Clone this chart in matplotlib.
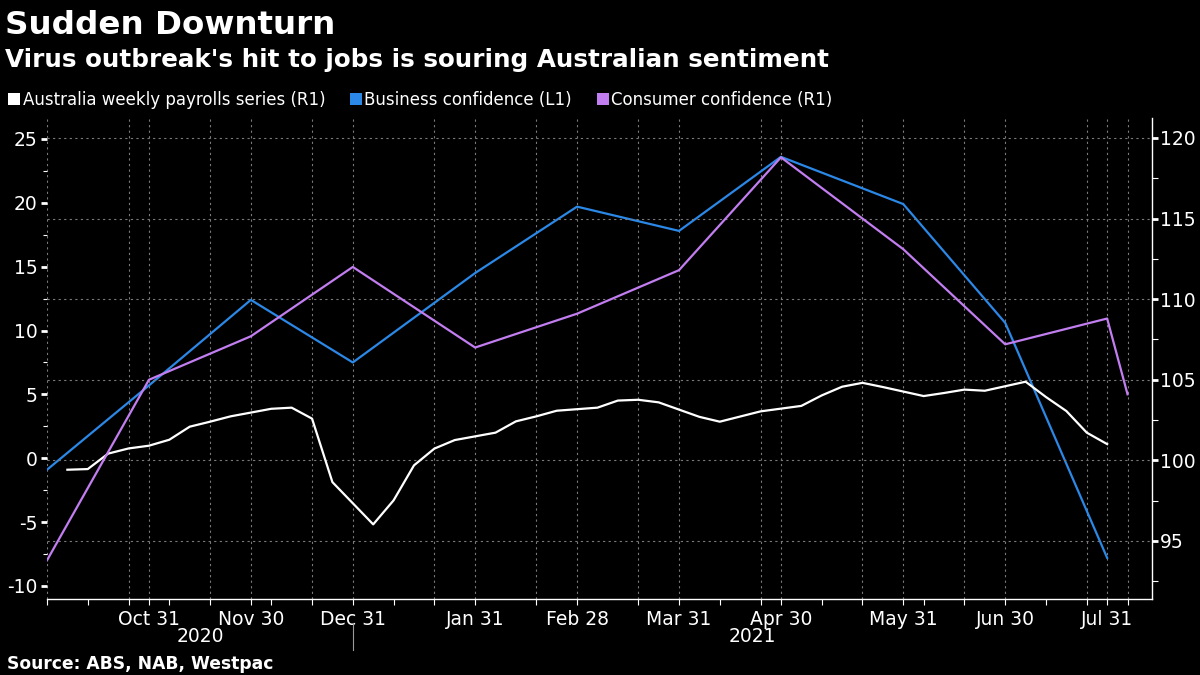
import matplotlib
matplotlib.use("Agg")
import matplotlib.pyplot as plt
import matplotlib.transforms as mtransforms
from matplotlib.lines import Line2D
import pandas as pd

# ---------------- data ----------------
month_end_dates = ["2020-09-30", "2020-10-31", "2020-11-30", "2020-12-31", "2021-01-31",
                   "2021-02-28", "2021-03-31", "2021-04-30", "2021-05-31", "2021-06-30",
                   "2021-07-31"]
business_conf = [-0.9, 5.7, 12.4, 7.5, 14.5, 19.7, 17.8, 23.6, 19.9, 10.6, -7.8]

consumer_dates = month_end_dates + ["2021-08-31"]
consumer_conf = [93.8, 105.0, 107.7, 112.0, 107.0, 109.1, 111.8, 118.8, 113.1, 107.2,
                 108.8, 104.1]

payroll_dates = [d.strftime("%Y-%m-%d") for d in
                 pd.date_range("2020-10-03", "2021-07-31", freq="W-SAT")]
payroll = [99.42, 99.46, 100.42, 100.74, 100.91, 101.28, 102.09, 102.40, 102.73,
           103.20, 103.27, 102.59, 98.65,
           96.03, 97.52, 99.69, 100.73, 101.26,
           101.72, 102.42, 102.73, 103.08,
           103.27, 103.71, 103.76, 103.60,
           102.70, 102.40, 102.72, 103.04,
           103.38, 104.03, 104.57, 104.81, 104.55,
           103.99, 104.18, 104.39, 104.32,
           104.88, 103.93, 103.06, 101.72, 101.01]

tick_label_dates = ["2020-10-31", "2020-11-30", "2020-12-31", "2021-01-31", "2021-02-28",
                    "2021-03-31", "2021-04-30", "2021-05-31", "2021-06-30", "2021-07-31"]
tick_labels = ["Oct 31", "Nov 30", "Dec 31", "Jan 31", "Feb 28", "Mar 31", "Apr 30",
               "May 31", "Jun 30", "Jul 31"]
minor_tick_dates = ["2020-09-30", "2020-10-10", "2020-10-24", "2020-11-07", "2020-11-21",
                    "2020-12-05", "2020-12-19", "2021-01-09", "2021-01-23", "2021-02-20",
                    "2021-03-20", "2021-04-10", "2021-04-24", "2021-05-08", "2021-05-22",
                    "2021-06-05", "2021-06-19", "2021-07-10", "2021-07-24", "2021-08-31"]
grid_dates = ["2020-09-30", "2020-10-24", "2020-11-21", "2020-12-19", "2021-01-23",
              "2021-02-20", "2021-03-20", "2021-04-24", "2021-05-22", "2021-06-19",
              "2021-07-24", "2021-08-31"] + tick_label_dates

# ordinal (observation-based) x axis over union of all dates
all_dates = sorted(set(month_end_dates + consumer_dates + payroll_dates))
pos = {d: i for i, d in enumerate(all_dates)}
def X(dates):
    return [pos[d] for d in dates]

# ---------------- style ----------------
BG = "black"
WHITE = "white"
BLUE = "#2b88e6"
PURPLE = "#c27ef0"
GRID = "#7a7a7a"
FONT = "DejaVu Sans"
plt.rcParams["font.family"] = [FONT]
plt.rcParams["axes.unicode_minus"] = False

fig = plt.figure(figsize=(12, 6.75), dpi=100, facecolor=BG)
ax = fig.add_axes([47 / 1200, 1 - 599 / 675, (1152 - 47) / 1200, (599 - 118) / 675])
ax.set_facecolor(BG)
ax2 = ax.twinx()

ax.set_xlim(0, 54.2)
ax.set_ylim(-11.02, 26.64)
ax2.set_ylim(91.40, 121.24)

# grid lines
for gx in X(grid_dates):
    ax.axvline(gx, color=GRID, lw=0.8, ls=(0, (2, 3)), zorder=0.5)
for gy in [95, 100, 105, 110, 115, 120]:
    ax2.axhline(gy, color=GRID, lw=0.8, ls=(0, (2, 3)), zorder=0.5)

# series
ax.plot(X(month_end_dates), business_conf, color=BLUE, lw=1.6, zorder=3)
ax2.plot(X(payroll_dates), payroll, color=WHITE, lw=1.6, zorder=3)
ax2.plot(X(consumer_dates), consumer_conf, color=PURPLE, lw=1.6, zorder=3)

# spines
for s in ["top", "left"]:
    ax.spines[s].set_visible(False)
    ax2.spines[s].set_visible(False)
ax.spines["right"].set_visible(False)
ax.spines["bottom"].set_color(WHITE)
ax.spines["bottom"].set_linewidth(1.0)
ax2.spines["bottom"].set_visible(False)
ax2.spines["right"].set_color(WHITE)
ax2.spines["right"].set_linewidth(1.0)

# y ticks
ax.set_yticks([-10, -5, 0, 5, 10, 15, 20, 25])
ax.set_yticks([-7.5, -2.5, 2.5, 7.5, 12.5, 17.5, 22.5], minor=True)
ax2.set_yticks([95, 100, 105, 110, 115, 120])
ax2.set_yticks([92.5, 97.5, 102.5, 107.5, 112.5, 117.5], minor=True)
ax.tick_params(axis="y", which="major", colors=WHITE, labelsize=13.5, length=4, width=2, pad=3)
ax.tick_params(axis="y", which="minor", colors=WHITE, length=3, width=0.8)
ax2.tick_params(axis="y", which="major", colors=WHITE, labelsize=13.5, length=4, width=2, pad=2)
ax2.tick_params(axis="y", which="minor", colors=WHITE, length=4, width=0.8)

# x ticks
ax.set_xticks(X(tick_label_dates))
ax.set_xticklabels(tick_labels)
ax.set_xticks(X(minor_tick_dates), minor=True)
ax.tick_params(axis="x", which="both", colors=WHITE, labelsize=13.5, length=4, width=0.8, pad=4)

# year labels and separator
trans = mtransforms.blended_transform_factory(ax.transData, ax.transAxes)
ax.text(7.5, -0.079, "2020", transform=trans, ha="center", va="center",
        color=WHITE, fontsize=13.5)
ax.text(34.6, -0.079, "2021", transform=trans, ha="center", va="center",
        color=WHITE, fontsize=13.5)
ax.plot([pos["2020-12-31"]] * 2, [-0.050, -0.106], transform=trans, color="#9a9a9a",
        lw=0.8, clip_on=False)

# titles
fig.text(0.004, 1 - 25 / 675, "Sudden Downturn", color=WHITE, fontsize=23.4,
         fontweight="bold", ha="left", va="center")
fig.text(0.004, 1 - 60 / 675, "Virus outbreak's hit to jobs is souring Australian sentiment",
         color=WHITE, fontsize=17.7, fontweight="bold", ha="left", va="center")
fig.text(0.006, 1 - 664 / 675, "Source: ABS, NAB, Westpac", color=WHITE, fontsize=12.3,
         fontweight="bold", ha="left", va="center")

# legend
handles = [Line2D([], [], ls="none", marker="s", markersize=8, color=c, markeredgewidth=0)
           for c in [WHITE, BLUE, PURPLE]]
labels = ["Australia weekly payrolls series (R1)", "Business confidence (L1)",
          "Consumer confidence (R1)"]
leg = fig.legend(handles, labels, loc="center left", bbox_to_anchor=(0.005, 1 - 100 / 675),
                 ncol=3, frameon=False, handlelength=0.6, handletextpad=0.2,
                 columnspacing=1.55, fontsize=12, borderaxespad=0, borderpad=0.2)
for t in leg.get_texts():
    t.set_color(WHITE)

fig.savefig("out.png", dpi=100, facecolor=BG)
